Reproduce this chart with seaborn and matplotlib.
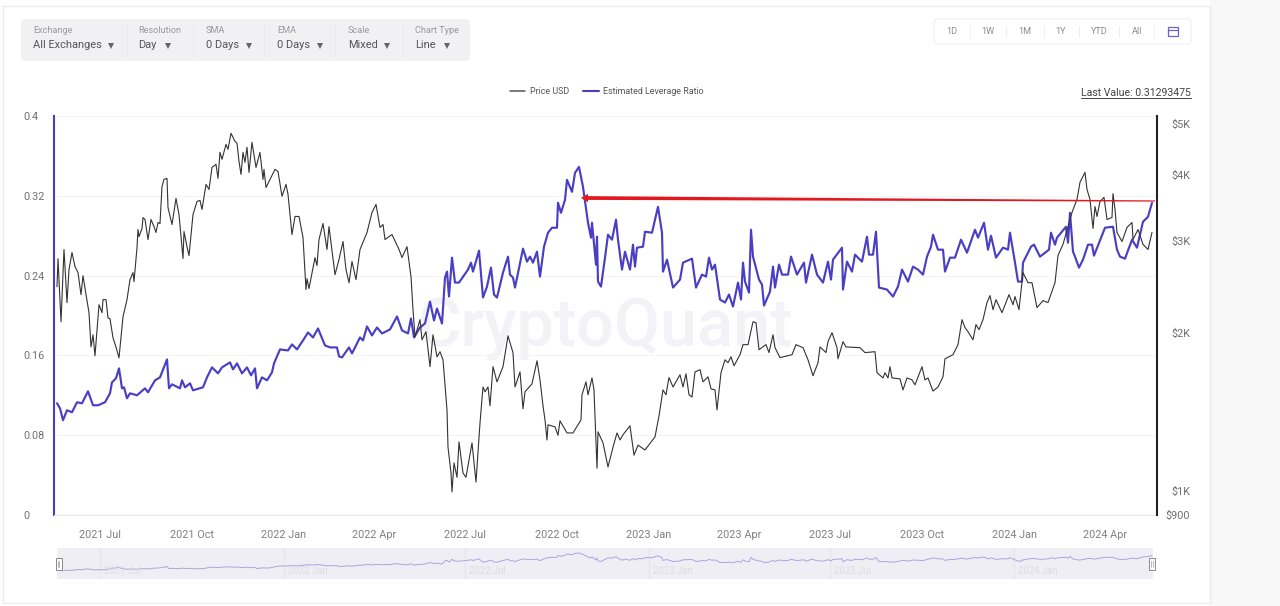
import matplotlib
matplotlib.use("Agg")
import matplotlib.pyplot as plt
import matplotlib.dates as mdates
from matplotlib.patches import FancyBboxPatch, Rectangle
from matplotlib.lines import Line2D
from matplotlib.ticker import FixedLocator, FixedFormatter, NullLocator
import numpy as np
import pandas as pd
import seaborn as sns

# Daily samples, given as days since the start of the series
START_DATE = "2021-05-19"

price_days = [0,1,4,7,10,12,15,18,21,24,26,29,32,34,36,38,42,45,46,49,51,53,56,59,62,66,70,73,76,77,80,81,82,85,86,88,91,94,97,99,101,103,105,107,110,111,115,119,122,126,127,130,132,136,140,143,145,149,152,155,159,161,163,165,169,171,174,178,180,182,184,186,188,190,192,195,199,203,206,207,209,213,218,221,225,229,231,235,238,242,246,249,250,252,258,260,262,266,270,272,278,282,286,289,292,295,299,303,310,315,319,323,326,328,335,342,345,350,352,354,356,358,363,365,369,373,376,380,383,386,390,391,394,395,397,400,402,406,409,415,419,423,426,428,431,433,436,440,446,451,456,458,463,466,468,475,480,483,486,488,490,491,498,501,503,510,516,524,525,529,531,535,537,540,541,546,551,556,560,563,566,573,577,581,588,598,602,606,609,612,616,623,626,629,632,635,638,643,646,651,654,658,660,664,668,671,674,677,683,686,691,696,699,702,709,712,716,718,723,735,739,746,751,756,761,763,769,771,775,780,781,786,789,803,808,818,820,826,828,831,833,835,843,846,850,855,858,865,868,871,876,881,886,888,896,901,905,908,911,916,919,922,926,930,933,936,939,945,952,956,958,962,966,971,975,980,986,991,998,1001,1006,1015,1020,1023,1028,1030,1033,1036,1038,1040,1043,1047,1050,1055,1056,1058,1060,1065,1070,1075,1076,1081,1086,1091,1095]
price_usd = [2449,2770,2101,2884,2285,2641,2846,2675,2606,2366,2571,2366,2186,1881,1984,1810,2264,2186,2315,2315,2137,2128,1958,1881,1793,2147,2315,2527,2606,2505,2907,3149,3052,3163,3317,3290,3013,3290,3189,3108,3247,3232,3802,3923,3940,3467,3218,3609,3362,2772,3121,2920,2808,3362,3561,3577,3438,3837,3754,4134,4190,3940,4417,4283,4574,4476,4802,4636,4595,4245,4009,4417,4227,4516,4045,4615,4134,4417,3923,4099,3785,3923,4099,4063,3642,3838,3674,3080,3334,3334,3040,2419,2538,2430,2784,2688,3013,3232,2884,3189,2583,2760,2987,2641,2493,2736,2527,2884,3108,3393,3515,3177,3218,3013,3080,2884,2784,2920,2736,2560,2215,1966,2120,1941,2011,1725,1984,1801,1842,1778,1427,1212,1082,996,1131,1062,1240,1082,1062,1235,1040,1348,1578,1545,1578,1453,1725,1614,1725,1975,1834,1578,1686,1434,1545,1600,1770,1628,1453,1366,1251,1337,1325,1277,1360,1290,1290,1366,1525,1614,1525,1642,1558,1105,1296,1235,1111,1212,1290,1251,1280,1331,1170,1223,1197,1268,1390,1558,1525,1645,1578,1665,1578,1672,1525,1510,1686,1702,1614,1650,1565,1558,1427,1680,1778,1755,1802,1732,1818,1900,1900,2101,2092,1858,1900,1835,1984,1875,1795,1818,1900,1875,1778,1658,1755,1881,1835,1925,2003,1875,1786,1925,1881,1875,1835,1842,1680,1642,1680,1642,1725,1642,1635,1558,1642,1628,1593,1725,1628,1642,1550,1578,1650,1786,1818,1900,2120,2048,2011,1941,2075,2029,2120,2285,2356,2215,2315,2186,2366,2264,2346,2215,2606,2493,2493,2235,2305,2285,2493,2810,2950,3393,3593,3873,4045,3754,3593,3163,3483,3334,3561,3625,3290,3319,3686,3438,3108,2987,3177,3247,3013,3149,2950,2884,3108]

leverage_days = [0,3,6,10,15,20,25,31,36,41,48,53,55,59,62,65,67,70,73,80,88,91,98,103,110,112,115,123,125,128,133,136,146,150,155,161,165,173,176,180,185,190,194,198,200,205,210,215,217,223,231,235,240,246,251,256,261,268,273,280,282,285,292,295,303,306,310,315,320,325,333,340,345,351,354,357,363,368,373,377,380,385,388,390,392,395,398,402,411,414,416,422,426,430,434,437,440,446,451,453,456,458,466,470,473,476,480,483,487,491,495,500,501,504,508,510,515,518,522,526,531,534,535,539,540,541,544,548,551,555,559,561,565,568,573,576,578,580,586,588,595,601,605,606,610,616,623,626,635,639,645,649,652,655,658,663,668,672,676,681,684,686,688,692,694,696,702,705,707,713,716,718,722,725,731,734,740,747,749,755,760,766,771,774,776,785,786,790,795,798,805,810,812,816,819,822,830,836,841,845,851,856,861,866,870,874,876,881,886,888,893,898,904,910,918,921,927,931,934,939,946,951,953,958,961,965,966,974,977,983,992,994,998,1000,1009,1011,1013,1016,1018,1022,1026,1031,1035,1037,1048,1056,1060,1063,1068,1075,1080,1086,1091,1095]
leverage_ratio = [.112,.107,.095,.105,.103,.113,.112,.124,.110,.110,.113,.122,.133,.137,.147,.127,.128,.117,.122,.120,.127,.123,.135,.138,.156,.127,.131,.127,.135,.128,.132,.125,.128,.138,.148,.142,.148,.153,.146,.152,.142,.148,.140,.147,.127,.138,.135,.143,.152,.166,.165,.171,.166,.175,.183,.178,.187,.170,.168,.168,.159,.158,.168,.162,.178,.175,.189,.180,.188,.182,.186,.199,.185,.182,.197,.178,.188,.192,.214,.195,.207,.192,.238,.244,.219,.258,.233,.233,.246,.253,.244,.265,.218,.229,.248,.221,.218,.243,.259,.241,.238,.228,.267,.254,.259,.253,.264,.239,.269,.283,.288,.288,.313,.303,.316,.336,.324,.343,.349,.329,.293,.278,.293,.251,.279,.234,.229,.258,.281,.276,.296,.276,.246,.264,.246,.271,.249,.268,.269,.284,.283,.309,.283,.244,.256,.228,.236,.253,.257,.228,.241,.239,.258,.246,.251,.216,.213,.221,.209,.233,.216,.253,.234,.223,.286,.259,.236,.231,.210,.224,.249,.228,.251,.241,.241,.259,.241,.253,.233,.261,.241,.233,.254,.236,.256,.268,.226,.254,.244,.261,.254,.279,.261,.261,.284,.228,.226,.219,.229,.246,.234,.249,.246,.241,.259,.269,.281,.266,.266,.244,.258,.258,.276,.263,.286,.278,.293,.266,.280,.258,.268,.266,.283,.253,.234,.234,.253,.269,.271,.259,.266,.283,.271,.278,.289,.273,.303,.264,.259,.248,.256,.271,.271,.260,.288,.289,.266,.259,.257,.276,.268,.294,.299,.31293]

leverage_ticks = [0, 0.08, 0.16, 0.24, 0.32, 0.4]
leverage_tick_labels = ["0", "0.08", "0.16", "0.24", "0.32", "0.4"]
price_ticks = [900, 1000, 2000, 3000, 4000, 5000]
price_tick_labels = ["$900", "$1K", "$2K", "$3K", "$4K", "$5K"]

controls = [("Exchange", "All Exchanges"), ("Resolution", "Day"), ("SMA", "0 Days"),
            ("EMA", "0 Days"), ("Scale", "Mixed"), ("Chart Type", "Line")]
ranges = ["1D", "1W", "1M", "1Y", "YTD", "All"]
LAST_VALUE = "Last Value: 0.31293475"

# Series colours
BLUE = "#4a3fc4"
BLACK = "#333333"
RED = "#e3181f"
FONT = "Roboto"

start = pd.Timestamp(START_DATE)
price_df = pd.DataFrame({"date": start + pd.to_timedelta(price_days, unit="D"), "price": price_usd})
lev_df = pd.DataFrame({"date": start + pd.to_timedelta(leverage_days, unit="D"), "leverage": leverage_ratio})

sns.set_theme(style="white")
plt.rcParams["font.family"] = [FONT, "DejaVu Sans"]

W, H = 1280, 606
fig = plt.figure(figsize=(W / 100, H / 100), dpi=100, facecolor="white")


def px_axes(left, top, right, bottom, **kw):
    """Axes placed by pixel edges measured from the top-left of the figure."""
    return fig.add_axes([left / W, 1 - bottom / H, (right - left) / W, (bottom - top) / H], **kw)


# Page furniture behind the chart
ui = fig.add_axes([0, 0, 1, 1], zorder=0)
ui.set_xlim(0, W)
ui.set_ylim(H, 0)
ui.axis("off")
ui.add_patch(Rectangle((1210, 0), 70, H, color="#f8f8f8", lw=0))
ui.plot([3, 1210, 1210], [6, 6, 603], color="#ececec", lw=1)
ui.plot([3, 3, 1210], [6, 603, 603], color="#ececec", lw=1)

# Dropdown strip
ui.add_patch(FancyBboxPatch((21, 19), 449, 42, boxstyle="round,pad=0,rounding_size=4",
                            mutation_aspect=1, lw=0, fc="#f1f1f4"))
label_x = [33, 138, 206, 277, 348, 415]
arrow_x = [111, 168, 249, 320, 387, 447]
for (head, val), lx, ax_ in zip(controls, label_x, arrow_x):
    ui.text(lx, 30.5, head, fontsize=6.6, color="#9a9a9e", va="center", ha="left")
    ui.text(lx, 45.5, val, fontsize=7.9, color="#55555a", va="center", ha="left")
    ui.plot([ax_], [45.5], marker="v", ms=4, color="#66666a", mew=0)
for sx in [127, 193, 264, 335, 403]:
    ui.plot([sx, sx], [24, 56], color="#ebebee", lw=0.8)

# Range selector
ui.add_patch(FancyBboxPatch((934, 19), 257, 25, boxstyle="round,pad=0,rounding_size=3",
                            lw=0.8, ec="#efeff2", fc="white"))
for r, rx in zip(ranges, [952, 988, 1025, 1061, 1099, 1137]):
    ui.text(rx, 31.5, r, fontsize=6.6, color="#8c8c90", va="center", ha="center")
for sx in [970, 1006, 1044, 1079, 1119, 1154]:
    ui.plot([sx, sx], [26, 37], color="#efeff2", lw=0.8)
ui.add_patch(Rectangle((1168, 27), 10, 9, fc="none", ec="#6a62c4", lw=0.9))
ui.plot([1168, 1178], [29.5, 29.5], color="#6a62c4", lw=0.9)

# Last value readout
ui.text(1191, 92.5, LAST_VALUE, fontsize=7.6, color="#444444", va="center", ha="right")
ui.plot([1081, 1191], [98, 98], color="#444444", lw=0.7)

# Watermark
ui.text(605, 329, "CryptoQuant", fontsize=48, color="#f2f2f7", va="center", ha="center", fontweight="medium")

# Main panel: leverage on the left, price on a log scale on the right
ax = px_axes(54, 116, 1157, 515, zorder=1, facecolor="none")
sns.lineplot(data=lev_df, x="date", y="leverage", ax=ax, color=BLUE, linewidth=1.55,
             estimator=None, legend=False, label="Estimated Leverage Ratio")
ax.set_ylim(0, 0.4)
ax.set_xlim(start - pd.Timedelta(days=3), start + pd.Timedelta(days=1100))
ax.set_xlabel("")
ax.set_ylabel("")
ax.yaxis.set_major_locator(FixedLocator(leverage_ticks))
ax.yaxis.set_major_formatter(FixedFormatter(leverage_tick_labels))
ax.xaxis.set_major_locator(mdates.MonthLocator(bymonth=[1, 4, 7, 10]))
ax.xaxis.set_major_formatter(mdates.DateFormatter("%Y %b"))
ax.grid(axis="y", color="#f5f5f6", lw=0.8)
ax.grid(axis="x", visible=False)
ax.tick_params(axis="x", length=3, width=0.7, color="#e4e4e6", labelsize=7.8, labelcolor="#808080", pad=8)
ax.tick_params(axis="y", length=0, labelsize=7.8, labelcolor="#707070", pad=22)
for t in ax.get_yticklabels():
    t.set_ha("left")
for side in ["top", "right"]:
    ax.spines[side].set_visible(False)
ax.spines["bottom"].set_color("#e8e8ea")
ax.spines["bottom"].set_linewidth(0.8)
ax.spines["left"].set_color(BLUE)
ax.spines["left"].set_linewidth(1.5)

ax2 = ax.twinx()
ax2.set_zorder(2)
ax2.patch.set_visible(False)
sns.lineplot(data=price_df, x="date", y="price", ax=ax2, color=BLACK, linewidth=0.8,
             estimator=None, legend=False, label="Price USD")
ax2.set_yscale("log")
ax2.set_ylim(900, 5180)
ax2.set_ylabel("")
ax2.yaxis.set_major_locator(FixedLocator(price_ticks))
ax2.yaxis.set_major_formatter(FixedFormatter(price_tick_labels))
ax2.yaxis.set_minor_locator(NullLocator())
ax2.tick_params(axis="y", which="both", length=0, labelsize=7.8, labelcolor="#707070", pad=24)
for t in ax2.get_yticklabels():
    t.set_ha("right")
for side in ["top", "left", "bottom"]:
    ax2.spines[side].set_visible(False)
ax2.spines["right"].set_color("#222222")
ax2.spines["right"].set_linewidth(1.5)

# Hand-drawn red arrow from the latest reading back to the earlier level; it tapers to the right
head_x, tail_x = mdates.date2num(start + pd.Timedelta(days=524)), mdates.date2num(start + pd.Timedelta(days=1098))
head_y, tail_y = 0.3178, 0.3148
ax2.fill([head_x + 3, tail_x, tail_x, head_x + 3],
         [head_y + 0.0019, tail_y + 0.0006, tail_y - 0.0006, head_y - 0.0019],
         color=RED, lw=0, transform=ax.transData, zorder=6, clip_on=False)
ax2.fill([head_x, head_x + 7, head_x + 7], [head_y, head_y + 0.0042, head_y - 0.0042],
         color=RED, lw=0, transform=ax.transData, zorder=6)

# Legend above the panel
handles = [Line2D([], [], color="#555555", lw=1.1), Line2D([], [], color=BLUE, lw=1.5)]
fig.legend(handles, ["Price USD", "Estimated Leverage Ratio"], loc="center",
           bbox_to_anchor=(607 / W, 1 - 92 / H), ncol=2, frameon=False, fontsize=6.4,
           handlelength=1.7, handletextpad=0.55, columnspacing=1.6, labelcolor="#555555")

# Range navigator under the panel
nav = px_axes(57, 548, 1153, 579, zorder=3, facecolor="#efeef5")
sns.lineplot(data=lev_df, x="date", y="leverage", ax=nav, color="#aaa5e0", linewidth=0.7,
             estimator=None, legend=False)
nav.set_ylim(-0.02, 0.42)
nav.set_xlim(start, start + pd.Timedelta(days=1096))
nav.set_xlabel("")
nav.set_ylabel("")
nav.set_yticks([])
nav.xaxis.set_major_locator(mdates.MonthLocator(bymonth=[1, 7]))
nav.xaxis.set_major_formatter(plt.NullFormatter())
nav.tick_params(axis="x", length=0)
nav.grid(axis="x", color="#e6e5ec", lw=0.8)
nav.grid(axis="y", visible=False)
for s in nav.spines.values():
    s.set_visible(False)
for d in pd.date_range("2021-07-01", "2024-01-01", freq="6MS"):
    nav.annotate(d.strftime("%Y %b"), xy=(d, 0), xycoords=("data", "axes fraction"), xytext=(3, 2.5),
                 textcoords="offset points", fontsize=6.9, color="#dcdce2", va="bottom", ha="left")

# Navigator drag handles
top = fig.add_axes([0, 0, 1, 1], zorder=5)
top.set_xlim(0, W)
top.set_ylim(H, 0)
top.axis("off")
for hx in [55.5, 1149]:
    top.add_patch(Rectangle((hx, 558), 6, 12, fc="white", ec="#8a8a8a", lw=0.7))
    top.plot([hx + 2.3, hx + 2.3], [561, 567], color="#9a9a9a", lw=0.5)
    top.plot([hx + 3.7, hx + 3.7], [561, 567], color="#9a9a9a", lw=0.5)

fig.savefig("out.png", dpi=100)
